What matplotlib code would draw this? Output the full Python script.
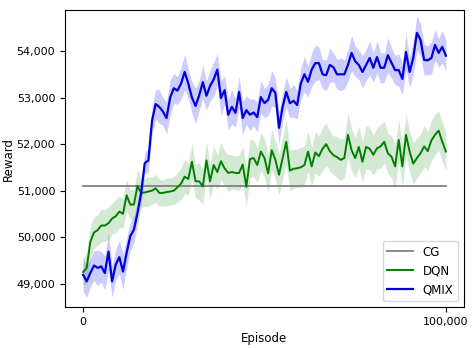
import numpy as np
import matplotlib.pyplot as plt
from matplotlib.ticker import FuncFormatter

# --- Data (one point every 1000 episodes) ---
episodes = list(range(0, 100001, 1000))

cg_reward = 51100

qmix_mean = [49190, 49050, 49230, 49390, 49340, 49370, 49230, 49690, 49050, 49410,
             49570, 49260, 49660, 50020, 50160, 50520, 50950, 51590, 51650, 52500,
             52860, 52800, 52700, 52560, 53000, 53200, 53150, 53300, 53550, 53300,
             53000, 52820, 53050, 53330, 53040, 53250, 53390, 53600, 52990, 53160,
             52630, 52800, 52670, 53120, 52560, 52730, 52630, 52680, 52580, 53010,
             52880, 52950, 53200, 53100, 52350, 52800, 53120, 52880, 52930, 52840,
             53300, 53500, 53340, 53600, 53740, 53740, 53500, 53480, 53700, 53650,
             53500, 53500, 53500, 53700, 53960, 53780, 53700, 53550, 53700, 53850,
             53640, 53870, 53640, 53640, 53910, 53750, 53590, 53590, 53400, 53980,
             53550, 53850, 54390, 54240, 53810, 53800, 53850, 54130, 53960, 54090,
             53900]

qmix_std = [360, 340, 300, 320, 380, 330, 360, 400, 340, 320,
            360, 380, 320, 300, 280, 260, 250, 230, 260, 300,
            320, 360, 300, 340, 380, 320, 300, 340, 380, 310,
            340, 380, 320, 360, 300, 330, 370, 340, 380, 310,
            330, 370, 300, 340, 360, 300, 340, 290, 320, 350,
            310, 340, 380, 320, 350, 300, 330, 310, 350, 300,
            340, 380, 330, 360, 390, 350, 310, 330, 370, 310,
            320, 350, 310, 340, 380, 330, 310, 350, 330, 370,
            310, 350, 330, 310, 370, 330, 310, 350, 330, 380,
            330, 350, 380, 350, 330, 310, 350, 330, 310, 350,
            330]

dqn_mean = [49250, 49340, 49900, 50100, 50150, 50250, 50250, 50300, 50400, 50450,
            50550, 50500, 50900, 50700, 50700, 51100, 50950, 50960, 50980, 51000,
            51050, 50950, 50950, 50970, 50980, 51000, 51070, 51150, 51300, 51250,
            51620, 51200, 51200, 51090, 51650, 51200, 51550, 51400, 51630, 51480,
            51380, 51400, 51380, 51380, 51560, 51080, 51680, 51700, 51550, 51840,
            51700, 51370, 51870, 51660, 51340, 51700, 52050, 51430, 51470, 51480,
            51500, 51550, 51840, 51520, 51820, 51740, 51900, 52000, 51850, 51760,
            51720, 51660, 51700, 52200, 51870, 51700, 51940, 51620, 51940, 51900,
            51770, 51910, 51950, 52050, 51800, 51730, 51520, 52090, 51520, 52200,
            51840, 51580, 51700, 51800, 51950, 51850, 52080, 52200, 52290, 52050,
            51840]

dqn_std = [280, 330, 360, 340, 330, 360, 340, 350, 330, 360,
           340, 310, 340, 310, 330, 350, 310, 300, 320, 290,
           300, 290, 280, 300, 290, 300, 320, 340, 370, 340,
           390, 360, 400, 380, 390, 380, 410, 370, 400, 370,
           390, 370, 360, 380, 400, 430, 410, 390, 370, 410,
           420, 400, 440, 410, 440, 450, 470, 440, 420, 410,
           430, 410, 440, 420, 450, 430, 470, 450, 430, 420,
           440, 450, 430, 470, 450, 430, 450, 430, 470, 450,
           430, 450, 470, 450, 430, 450, 470, 430, 470, 450,
           430, 450, 430, 420, 440, 420, 430, 450, 420, 430,
           410]

ep = np.array(episodes)
qm, qs = np.array(qmix_mean), np.array(qmix_std)
dm, ds = np.array(dqn_mean), np.array(dqn_std)

# --- Plot ---
fig = plt.figure(figsize=(4.74, 3.48), dpi=100)
ax = fig.add_axes([0.137, 0.118, 0.842, 0.853])

ax.plot([episodes[0], episodes[-1]], [cg_reward, cg_reward], color='gray', lw=1.3, label='CG')
ax.plot(ep, dm, color='green', lw=1.4, label='DQN')
ax.fill_between(ep, dm - ds, dm + ds, color='green', alpha=0.17, lw=0)
ax.plot(ep, qm, color='#0000dd', lw=1.6, label='QMIX')
ax.fill_between(ep, qm - qs, qm + qs, color='blue', alpha=0.2, lw=0)

ax.set_xlim(-5000, 105000)
ax.set_ylim(48500, 54880)
ax.set_xticks([0, 100000])
ax.set_yticks([49000, 50000, 51000, 52000, 53000, 54000])
fmt = FuncFormatter(lambda v, p: f'{int(v):,}')
ax.xaxis.set_major_formatter(fmt)
ax.yaxis.set_major_formatter(fmt)
ax.tick_params(labelsize=8)
ax.set_xlabel('Episode', fontsize=8.5)
ax.set_ylabel('Reward', fontsize=8.5, labelpad=1)
ax.legend(loc='lower right', fontsize=8.5, handlelength=2.2, borderpad=0.4)

fig.savefig('out.png', dpi=100)
